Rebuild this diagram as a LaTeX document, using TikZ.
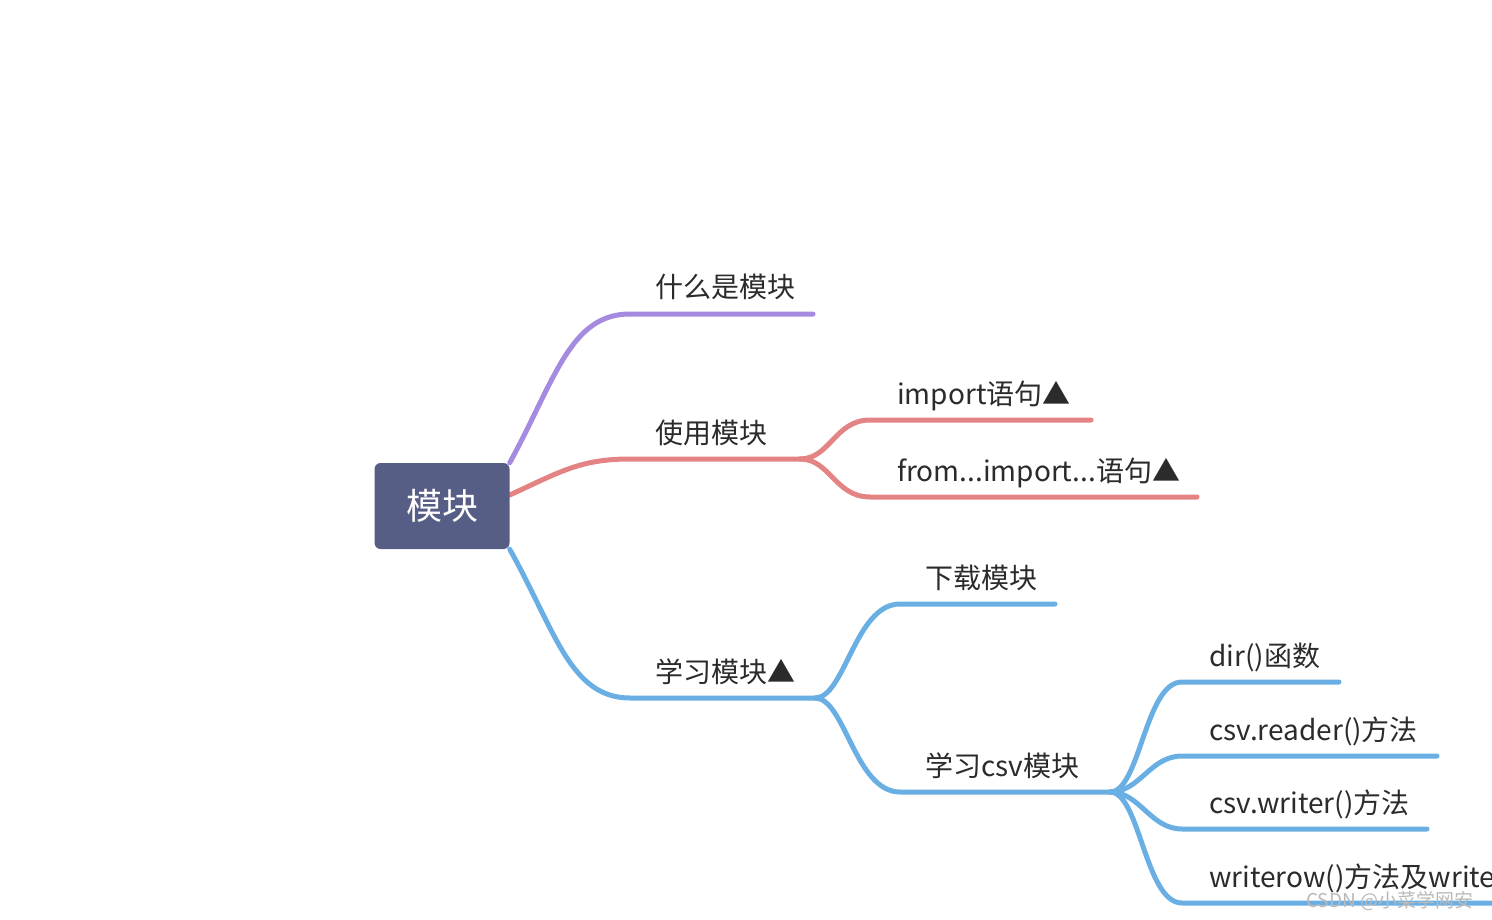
\documentclass[tikz,border=0pt]{standalone}
\usepackage{fontspec}
\setmainfont{Noto Sans CJK SC}
\usetikzlibrary{backgrounds}
\definecolor{rootc}{HTML}{565E85}
\definecolor{purp}{HTML}{A58BDF}
\definecolor{redc}{HTML}{E38383}
\definecolor{bluec}{HTML}{6AAFE3}
\definecolor{txt}{HTML}{2B2B2B}

\begin{document}
\begin{tikzpicture}[x=1pt, y=-1pt,
  rootbox/.style={rectangle, rounded corners=6pt, fill=rootc, text=white, minimum width=135pt, minimum height=86pt, font=\fontsize{36}{40}\selectfont, inner sep=0pt},
  topic/.style={anchor=base west, inner sep=0pt, text=txt, font=\fontsize{28}{34}\selectfont},
  watermark/.style={anchor=base west, inner sep=0pt, text=gray!55, font=\fontsize{19}{22}\selectfont},
  branch/.style={line width=5pt, line cap=round}
]
\useasboundingbox (0,0) rectangle (1492,920);
\clip (0,0) rectangle (1492,920);

% ==================== ROOT ====================
\node[rootbox] (root) at (442,506) {模块};

% ==================== LABELS ====================
\node[topic] (what) at (655,298) {什么是模块};
\node[topic] (use) at (655,443) {使用模块};
\node[topic] (learn) at (655,682) {学习模块▲};

\node[topic] (imp) at (897,404) {import语句▲};
\node[topic] (from) at (897,481) {from...import...语句▲};

\node[topic] (down) at (925,588) {下载模块};
\node[topic] (csv) at (925,776) {学习csv模块};

\node[topic] (dir) at (1209,666) {dir()函数};
\node[topic] (rd) at (1209,740) {csv.reader()方法};
\node[topic] (wr) at (1209,813) {csv.writer()方法};
\node[topic] (row) at (1209,887) {writerow()方法及write};

\node[watermark] (credit) at (1306,907) {CSDN @小菜学网安};

% ==================== BRANCH POINTS ====================
\coordinate (what_a) at (630,314);  \coordinate (what_b) at (813,314);
\coordinate (use_a) at (630,459);   \coordinate (use_b) at (800,459);
\coordinate (learn_a) at (630,698); \coordinate (learn_b) at (815,698);

\coordinate (imp_a) at (870,420);   \coordinate (imp_b) at (1091,420);
\coordinate (from_a) at (870,497);  \coordinate (from_b) at (1197,497);

\coordinate (down_a) at (900,604);  \coordinate (down_b) at (1055,604);
\coordinate (csv_a) at (900,792);   \coordinate (csv_b) at (1110,792);

\coordinate (dir_a) at (1182,682);  \coordinate (dir_b) at (1339,682);
\coordinate (rd_a) at (1182,756);   \coordinate (rd_b) at (1437,756);
\coordinate (wr_a) at (1182,829);   \coordinate (wr_b) at (1427,829);
\coordinate (row_a) at (1182,903);  \coordinate (row_b) at (1520,903);

% ==================== CONNECTORS ====================
\begin{scope}[on background layer]
\draw[branch, purp] (root.north east) .. controls (555,380) and (570,314) .. (what_a) -- (what_b);

\draw[branch, redc] (root.east) ++(0,-11) .. controls (560,472) and (580,459) .. (use_a) -- (use_b);
\draw[branch, redc] (use_b) .. controls (830,459) and (835,420) .. (imp_a) -- (imp_b);
\draw[branch, redc] (use_b) .. controls (830,459) and (835,497) .. (from_a) -- (from_b);

\draw[branch, bluec] (root.south east) .. controls (555,630) and (570,698) .. (learn_a) -- (learn_b);
\draw[branch, bluec] (learn_b) .. controls (845,698) and (855,604) .. (down_a) -- (down_b);
\draw[branch, bluec] (learn_b) .. controls (845,698) and (855,792) .. (csv_a) -- (csv_b);

\draw[branch, bluec] (csv_b) .. controls (1140,792) and (1145,682) .. (dir_a) -- (dir_b);
\draw[branch, bluec] (csv_b) .. controls (1140,792) and (1150,756) .. (rd_a) -- (rd_b);
\draw[branch, bluec] (csv_b) .. controls (1140,792) and (1150,829) .. (wr_a) -- (wr_b);
\draw[branch, bluec] (csv_b) .. controls (1140,792) and (1145,903) .. (row_a) -- (row_b);
\end{scope}

\end{tikzpicture}
\end{document}
